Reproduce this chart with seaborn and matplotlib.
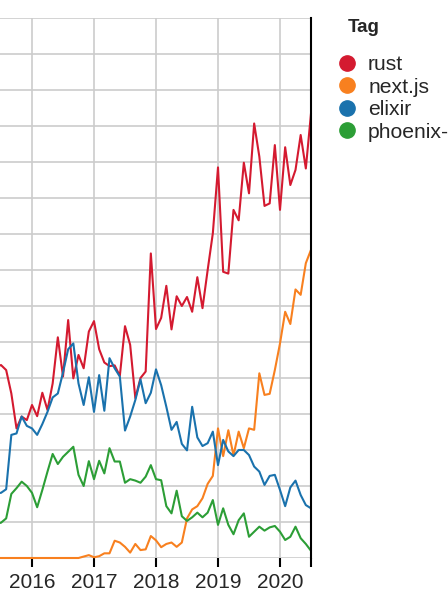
import numpy as np
import pandas as pd
import matplotlib.pyplot as plt
from matplotlib.lines import Line2D
import seaborn as sns

# monthly share per tag, Jun 2015 .. Jul 2020 (gridline units)
months = pd.date_range("2015-06-01", "2020-07-01", freq="MS")
tags = ["rust", "next.js", "elixir", "phoenix-framework"]

rust = [5.30, 5.36, 5.22, 4.57, 3.60, 3.93, 3.83,
        4.25, 3.94, 4.59, 4.11, 4.85, 6.13, 5.04, 6.61, 4.99, 5.64, 5.27, 6.29,
        6.58, 5.80, 5.43, 5.33, 5.35, 5.06, 6.44, 5.92, 4.44, 5.00, 5.18, 8.46,
        6.36, 6.67, 7.56, 6.35, 7.27, 7.00, 7.25, 6.84, 7.80, 6.94, 8.00, 9.02,
        10.85, 7.95, 7.90, 9.67, 9.38, 10.98, 10.13, 12.07, 11.15, 9.78, 9.85, 11.47,
        9.67, 11.41, 10.36, 10.78, 11.75, 10.82, 12.35]
nextjs = [0, 0, 0, 0, 0, 0, 0,
          0, 0, 0, 0, 0, 0, 0, 0, 0, 0, 0.04, 0.08,
          0.02, 0.05, 0.13, 0.13, 0.48, 0.43, 0.31, 0.15, 0.39, 0.22, 0.24, 0.61,
          0.49, 0.30, 0.39, 0.43, 0.31, 0.43, 1.10, 1.35, 1.44, 1.66, 2.06, 2.28,
          3.60, 2.83, 3.55, 2.85, 3.51, 3.05, 3.60, 3.56, 5.13, 4.53, 4.56, 5.22,
          5.96, 6.84, 6.50, 7.46, 7.31, 8.19, 8.56]
elixir = [1.80, 1.81, 1.91, 3.42, 3.46, 3.93, 3.67,
          3.60, 3.42, 3.72, 4.06, 4.46, 4.57, 5.15, 5.80, 5.96, 4.85, 4.25, 5.02,
          4.06, 5.08, 4.09, 5.55, 5.27, 5.04, 3.54, 3.93, 4.39, 4.96, 4.30, 4.59,
          5.24, 4.80, 4.20, 3.56, 3.78, 3.17, 2.99, 4.20, 3.35, 3.11, 3.19, 3.51,
          2.58, 3.28, 2.96, 2.83, 3.00, 3.00, 2.86, 2.54, 2.40, 2.03, 2.28, 2.31,
          1.89, 1.44, 1.96, 2.15, 1.75, 1.47, 1.38]
phoenix = [0.95, 0.98, 1.10, 1.78, 1.94, 2.12, 2.00,
           1.81, 1.41, 1.89, 2.40, 2.89, 2.61, 2.81, 2.95, 3.09, 2.31, 2.00, 2.69,
           2.19, 2.70, 2.35, 3.05, 2.68, 2.68, 2.09, 2.19, 2.15, 2.09, 2.26, 2.58,
           2.19, 2.16, 1.44, 1.24, 1.87, 1.16, 1.03, 1.13, 1.26, 1.13, 1.26, 1.61,
           0.92, 1.38, 0.92, 0.66, 1.05, 1.24, 0.59, 0.73, 0.87, 0.76, 0.85, 0.89,
           0.73, 0.50, 0.59, 0.87, 0.55, 0.39, 0.20]

colors = ["#d41a30", "#f8801f", "#1a72ad", "#2c9e36"]

t = months.year + (months.month - 1) / 12
df = pd.concat([
    pd.DataFrame({"t": t, "value": vals, "Tag": tag})
    for tag, vals in zip(tags, [rust, nextjs, elixir, phoenix])
])

sns.set_style("white")
plt.rcParams["font.family"] = ["Liberation Sans", "DejaVu Sans"]

fig = plt.figure(figsize=(4.48, 5.98), dpi=100)
W, H = 448, 598
ax = fig.add_axes([0, 1 - 558 / H, 311 / W, 540 / H])

sns.lineplot(data=df, x="t", y="value", hue="Tag", hue_order=tags,
             palette=dict(zip(tags, colors)), linewidth=1.5,
             legend=False, ax=ax, clip_on=False)

x0 = 2016 - 32 / 62
ax.set_xlim(x0, 2020.5)
ax.set_ylim(0, 15)
ax.set_xticks([2016, 2017, 2018, 2019, 2020])
ax.set_xticks([2020.5], minor=True)
ax.set_yticks(np.arange(0, 16, 1))
ax.grid(True, color="#cccccc", linewidth=1.2)
ax.set_axisbelow(True)
ax.set_xlabel("")
ax.set_ylabel("")

for s in ("left", "top", "bottom"):
    ax.spines[s].set_visible(False)
ax.spines["right"].set_color("black")
ax.spines["right"].set_linewidth(1.5)

ax.tick_params(axis="x", which="both", direction="out", length=6.5, width=1.5,
               color="black", labelsize=15, pad=4, bottom=True)
ax.tick_params(axis="y", length=0, labelleft=False)

fig.text(348 / W, 1 - 28 / H, "Tag", fontsize=13.5, fontweight="bold",
         va="center", ha="left")

handles = [Line2D([], [], marker="o", linestyle="", markersize=11,
                  markerfacecolor=c, markeredgecolor=c) for c in colors]
fig.legend(handles, tags, loc="upper left",
           bbox_to_anchor=(336 / W, 1 - 55 / H), frameon=False,
           fontsize=15.2, borderpad=0, borderaxespad=0, labelspacing=0.17,
           handlelength=1, handletextpad=0.52)

fig.savefig("out.png", dpi=100)
